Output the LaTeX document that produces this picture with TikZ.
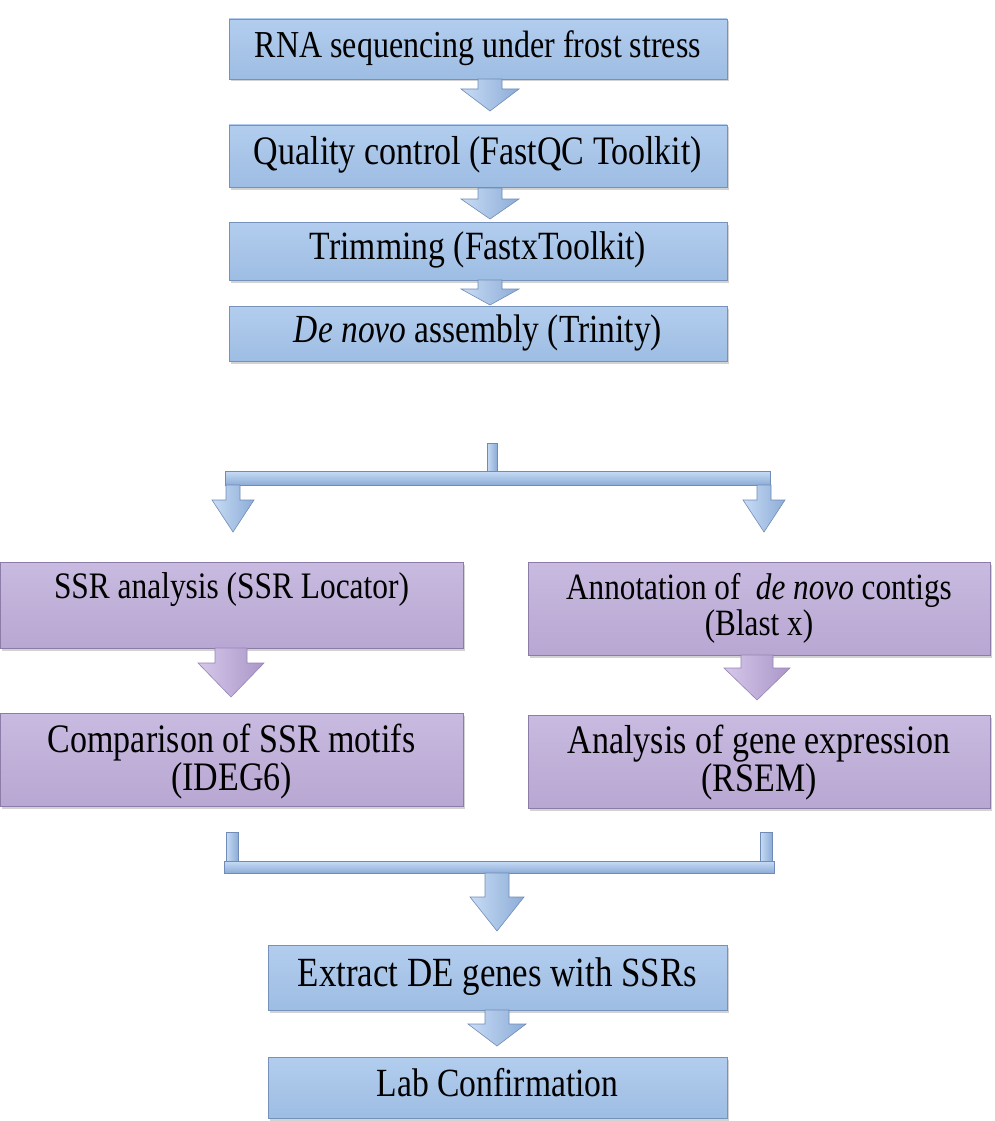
\documentclass[tikz,border=0pt]{standalone}
\usepackage{fontspec}
\usepackage{graphicx}
\setmainfont{Liberation Serif}
\usetikzlibrary{shadows,calc}
\definecolor{boxblue}{RGB}{158,189,227}
\definecolor{boxbluetop}{RGB}{178,205,238}
\definecolor{boxblueedge}{RGB}{118,146,186}
\definecolor{boxpurple}{RGB}{184,167,210}
\definecolor{boxpurpletop}{RGB}{200,186,224}
\definecolor{boxpurpleedge}{RGB}{140,124,168}
\definecolor{arrbluel}{RGB}{200,220,245}
\definecolor{arrbluer}{RGB}{140,172,215}
\definecolor{arrblueedge}{RGB}{112,140,182}
\definecolor{arrpurplel}{RGB}{214,200,234}
\definecolor{arrpurpler}{RGB}{170,150,200}
\definecolor{arrpurpleedge}{RGB}{150,132,180}
\newcommand{\tx}[2]{{\fontsize{#1}{29.5}\selectfont\scalebox{1}[1.19]{\begin{tabular}{@{}c@{}}#2\end{tabular}}}}
\tikzset{
  bluebox/.style={rectangle, draw=boxblueedge, line width=0.7pt, top color=boxbluetop, bottom color=boxblue,
    drop shadow={shadow xshift=1.5pt, shadow yshift=-2.5pt, opacity=0.35},
    inner sep=0pt},
  purplebox/.style={rectangle, draw=boxpurpleedge, line width=0.7pt, top color=boxpurpletop, bottom color=boxpurple,
    drop shadow={shadow xshift=1.5pt, shadow yshift=-2.5pt, opacity=0.35},
    inner sep=0pt},
  barrow/.style={left color=arrbluel, right color=arrbluer, draw=arrblueedge, line width=0.6pt, line join=miter},
  parrow/.style={left color=arrpurplel, right color=arrpurpler, draw=arrpurpleedge, line width=0.6pt, line join=miter},
  hpipe/.style={top color=arrbluel, bottom color=arrbluer, draw=arrblueedge, line width=0.6pt},
  vpipe/.style={left color=arrbluel, right color=arrbluer, draw=arrblueedge, line width=0.6pt}
}
% #1 x centre, #2 top y, #3 tip y, #4 shaft half width, #5 head half width, #6 head length
\newcommand{\dnarrow}[7]{%
  \path[#7] ({#1-#4},{#2}) -- ({#1+#4},{#2}) -- ({#1+#4},{#3-#6}) -- ({#1+#5},{#3-#6})
    -- ({#1},{#3}) -- ({#1-#5},{#3-#6}) -- ({#1-#4},{#3-#6}) -- cycle;
}
\begin{document}
\begin{tikzpicture}[x=1pt,y=-1pt]
\useasboundingbox (0,0) rectangle (994,1121);
\fill[white] (0,0) rectangle (994,1121);

% top chain
\node[bluebox, minimum width=498pt, minimum height=60pt] (rna) at (478,49) {\tx{32}{RNA sequencing under frost stress}};
\node[bluebox, minimum width=498pt, minimum height=62pt] (qc) at (478,156) {\tx{34}{Quality control (FastQC Toolkit)}};
\node[bluebox, minimum width=498pt, minimum height=58pt] (trim) at (478,251) {\tx{33.7}{Trimming (FastxToolkit)}};
\node[bluebox, minimum width=498pt, minimum height=55pt] (denovo) at (478,334) {\tx{33.5}{\textit{De novo} assembly (Trinity)}};

\dnarrow{490}{79}{111}{12}{29}{22}{barrow}
\dnarrow{490}{188}{219}{12}{29}{20}{barrow}
\dnarrow{490}{280}{305}{12}{29}{16}{barrow}

% split connector
\coordinate (split) at (492,443);
\path[vpipe] (487,443) rectangle (497,472);
\path[hpipe] (225,471) rectangle (770,485);
\dnarrow{233}{485}{532}{7}{21}{32}{barrow}
\dnarrow{764}{485}{532}{7}{21}{32}{barrow}

% purple boxes
\node[purplebox, minimum width=463pt, minimum height=86pt] (ssr) at (231.5,605) {};
\node at ($(ssr.north)+(0,29)$) {\tx{31.4}{SSR analysis (SSR Locator)}};
\node[purplebox, minimum width=463pt, minimum height=93pt] (cmp) at (231.5,759.5) {};
\node at ($(cmp.center)+(0,3)$) {\tx{34}{Comparison of SSR motifs\\(IDEG6)}};
\node[purplebox, minimum width=462pt, minimum height=93pt] (ann) at (759,608.5) {};
\node at ($(ann.center)+(0,1)$) {\tx{31.2}{Annotation of ~\textit{de novo} contigs\\(Blast x)}};
\node[purplebox, minimum width=462pt, minimum height=93pt] (expr) at (759,761.5) {};
\node at ($(expr.center)+(0,2)$) {\tx{34}{Analysis of gene expression\\(RSEM)}};

\dnarrow{231}{648}{697}{16}{33}{34}{parrow}
\dnarrow{757}{655}{700}{16}{33}{32}{parrow}

% merge connector
\path[vpipe] (226,832) rectangle (238,866);
\path[vpipe] (760,832) rectangle (772,866);
\path[hpipe] (224,861) rectangle (774,873);
\dnarrow{497}{873}{931}{12}{27}{34}{barrow}

% bottom chain
\node[bluebox, minimum width=459pt, minimum height=65pt] (ext) at (497.5,977.5) {\tx{34.9}{Extract DE genes with SSRs}};
\node[bluebox, minimum width=459pt, minimum height=61pt] (lab) at (497.5,1087.5) {\tx{33.6}{Lab Confirmation}};
\dnarrow{497}{1010}{1046}{12}{29}{22}{barrow}
\end{tikzpicture}
\end{document}
